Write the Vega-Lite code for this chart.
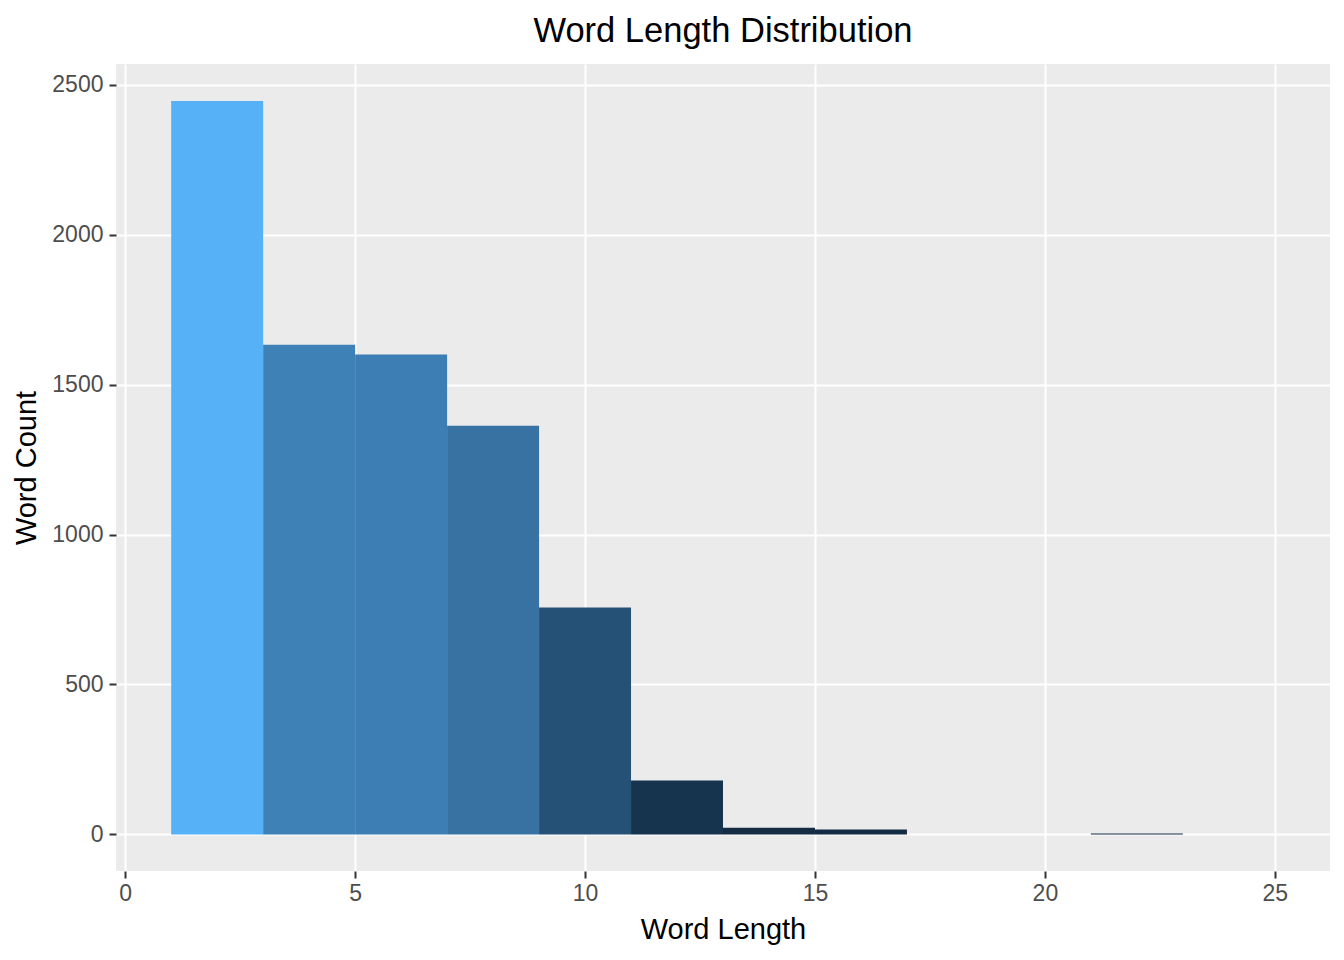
{
  "$schema": "https://vega.github.io/schema/vega-lite/v6.json",
  "description": "Word length histogram, binwidth 2",
  "autosize": {"type": "none"},
  "width": 1214,
  "height": 807,
  "padding": {"left": 116, "top": 64, "right": 14, "bottom": 89},
  "background": "#FFFFFF",
  "title": {
    "text": "Word Length Distribution",
    "font": "Liberation Sans",
    "fontSize": 34.5,
    "fontWeight": "normal",
    "color": "#000000",
    "anchor": "middle",
    "frame": "group",
    "baseline": "bottom",
    "offset": 16,
    "dy": 35
  },
  "data": {
    "values": [
      {"bin_start": 1, "bin_end": 3, "count": 2446},
      {"bin_start": 3, "bin_end": 5, "count": 1633},
      {"bin_start": 5, "bin_end": 7, "count": 1600},
      {"bin_start": 7, "bin_end": 9, "count": 1363},
      {"bin_start": 9, "bin_end": 11, "count": 757},
      {"bin_start": 11, "bin_end": 13, "count": 180},
      {"bin_start": 13, "bin_end": 15, "count": 22},
      {"bin_start": 15, "bin_end": 17, "count": 16},
      {"bin_start": 17, "bin_end": 19, "count": 0},
      {"bin_start": 19, "bin_end": 21, "count": 0},
      {"bin_start": 21, "bin_end": 23, "count": 3},
      {"bin_start": 23, "bin_end": 25, "count": 0}
    ]
  },
  "mark": {"type": "rect", "strokeWidth": 0},
  "encoding": {
    "x": {
      "field": "bin_start",
      "type": "quantitative",
      "scale": {"domain": [-0.2, 26.2], "nice": false, "zero": false},
      "axis": {"title": "Word Length", "values": [0, 5, 10, 15, 20, 25], "format": "d"}
    },
    "x2": {"field": "bin_end"},
    "y": {
      "field": "count",
      "type": "quantitative",
      "scale": {"domain": [-122, 2569], "nice": false, "zero": false},
      "axis": {"title": "Word Count", "values": [0, 500, 1000, 1500, 2000, 2500], "format": "d"}
    },
    "y2": {"datum": 0},
    "color": {
      "field": "count",
      "type": "quantitative",
      "scale": {"type": "linear", "domain": [0, 2446], "range": ["#132B43", "#56B1F7"], "interpolate": "lab"},
      "legend": null
    }
  },
  "config": {
    "view": {"fill": "#EBEBEB", "stroke": null},
    "axis": {
      "domain": false,
      "grid": true,
      "gridColor": "#FFFFFF",
      "gridWidth": 2,
      "tickColor": "#333333",
      "tickSize": 7,
      "tickWidth": 2,
      "labelFont": "Liberation Sans",
      "labelFontSize": 23,
      "labelColor": "#4D4D4D",
      "labelPadding": 4,
      "titleFont": "Liberation Sans",
      "titleFontSize": 29,
      "titleFontWeight": "normal",
      "titleColor": "#000000"
    },
    "axisX": {"titlePadding": 10},
    "axisY": {"titlePadding": 10, "labelPadding": 6}
  }
}
